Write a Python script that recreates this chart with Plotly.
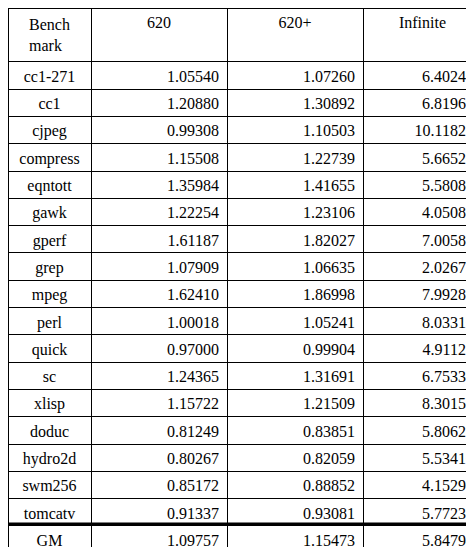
import plotly.graph_objects as go

headers = ["Bench<br>mark", "620", "620+", "Infinite"]
benchmarks = ["cc1-271","cc1","cjpeg","compress","eqntott","gawk","gperf","grep","mpeg","perl","quick","sc","xlisp","doduc","hydro2d","swm256","tomcatv","GM"]
v620 = ["1.05540","1.20880","0.99308","1.15508","1.35984","1.22254","1.61187","1.07909","1.62410","1.00018","0.97000","1.24365","1.15722","0.81249","0.80267","0.85172","0.91337","1.09757"]
v620p = ["1.07260","1.30892","1.10503","1.22739","1.41655","1.23106","1.82027","1.06635","1.86998","1.05241","0.99904","1.31691","1.21509","0.83851","0.82059","0.88852","0.93081","1.15473"]
vinf = ["6.40244","6.81969","10.11820","5.66520","5.58084","4.05087","7.00588","2.02673","7.99286","8.03310","4.91123","6.75335","8.30155","5.80629","5.53410","4.15299","5.77235","5.84794"]

W, H = 474, 547
hdr_h = 52
row_h = 27.3
fnt = dict(family="Liberation Serif, Times New Roman, serif", size=16, color="black")

fig = go.Figure(go.Table(
    columnwidth=[83, 136, 136, 119],
    header=dict(values=headers, height=hdr_h, align="center", font=fnt,
                fill_color="white", line=dict(color="black", width=1)),
    cells=dict(values=[benchmarks, v620, v620p, vinf], height=row_h,
               align=["center", "right", "right", "right"], font=fnt,
               fill_color="white", line=dict(color="black", width=1)),
    domain=dict(x=[0, 1], y=[0, 1]),
))
gm_y = 1 - (hdr_h + row_h * (len(benchmarks) - 1)) / H
fig.add_shape(type="line", xref="paper", yref="paper", x0=0, x1=1, y0=gm_y, y1=gm_y,
              line=dict(color="black", width=3))
fig.update_layout(width=W, height=H, margin=dict(l=0, r=0, t=0, b=0),
                  paper_bgcolor="white", plot_bgcolor="white")
fig.write_html("out.html")
